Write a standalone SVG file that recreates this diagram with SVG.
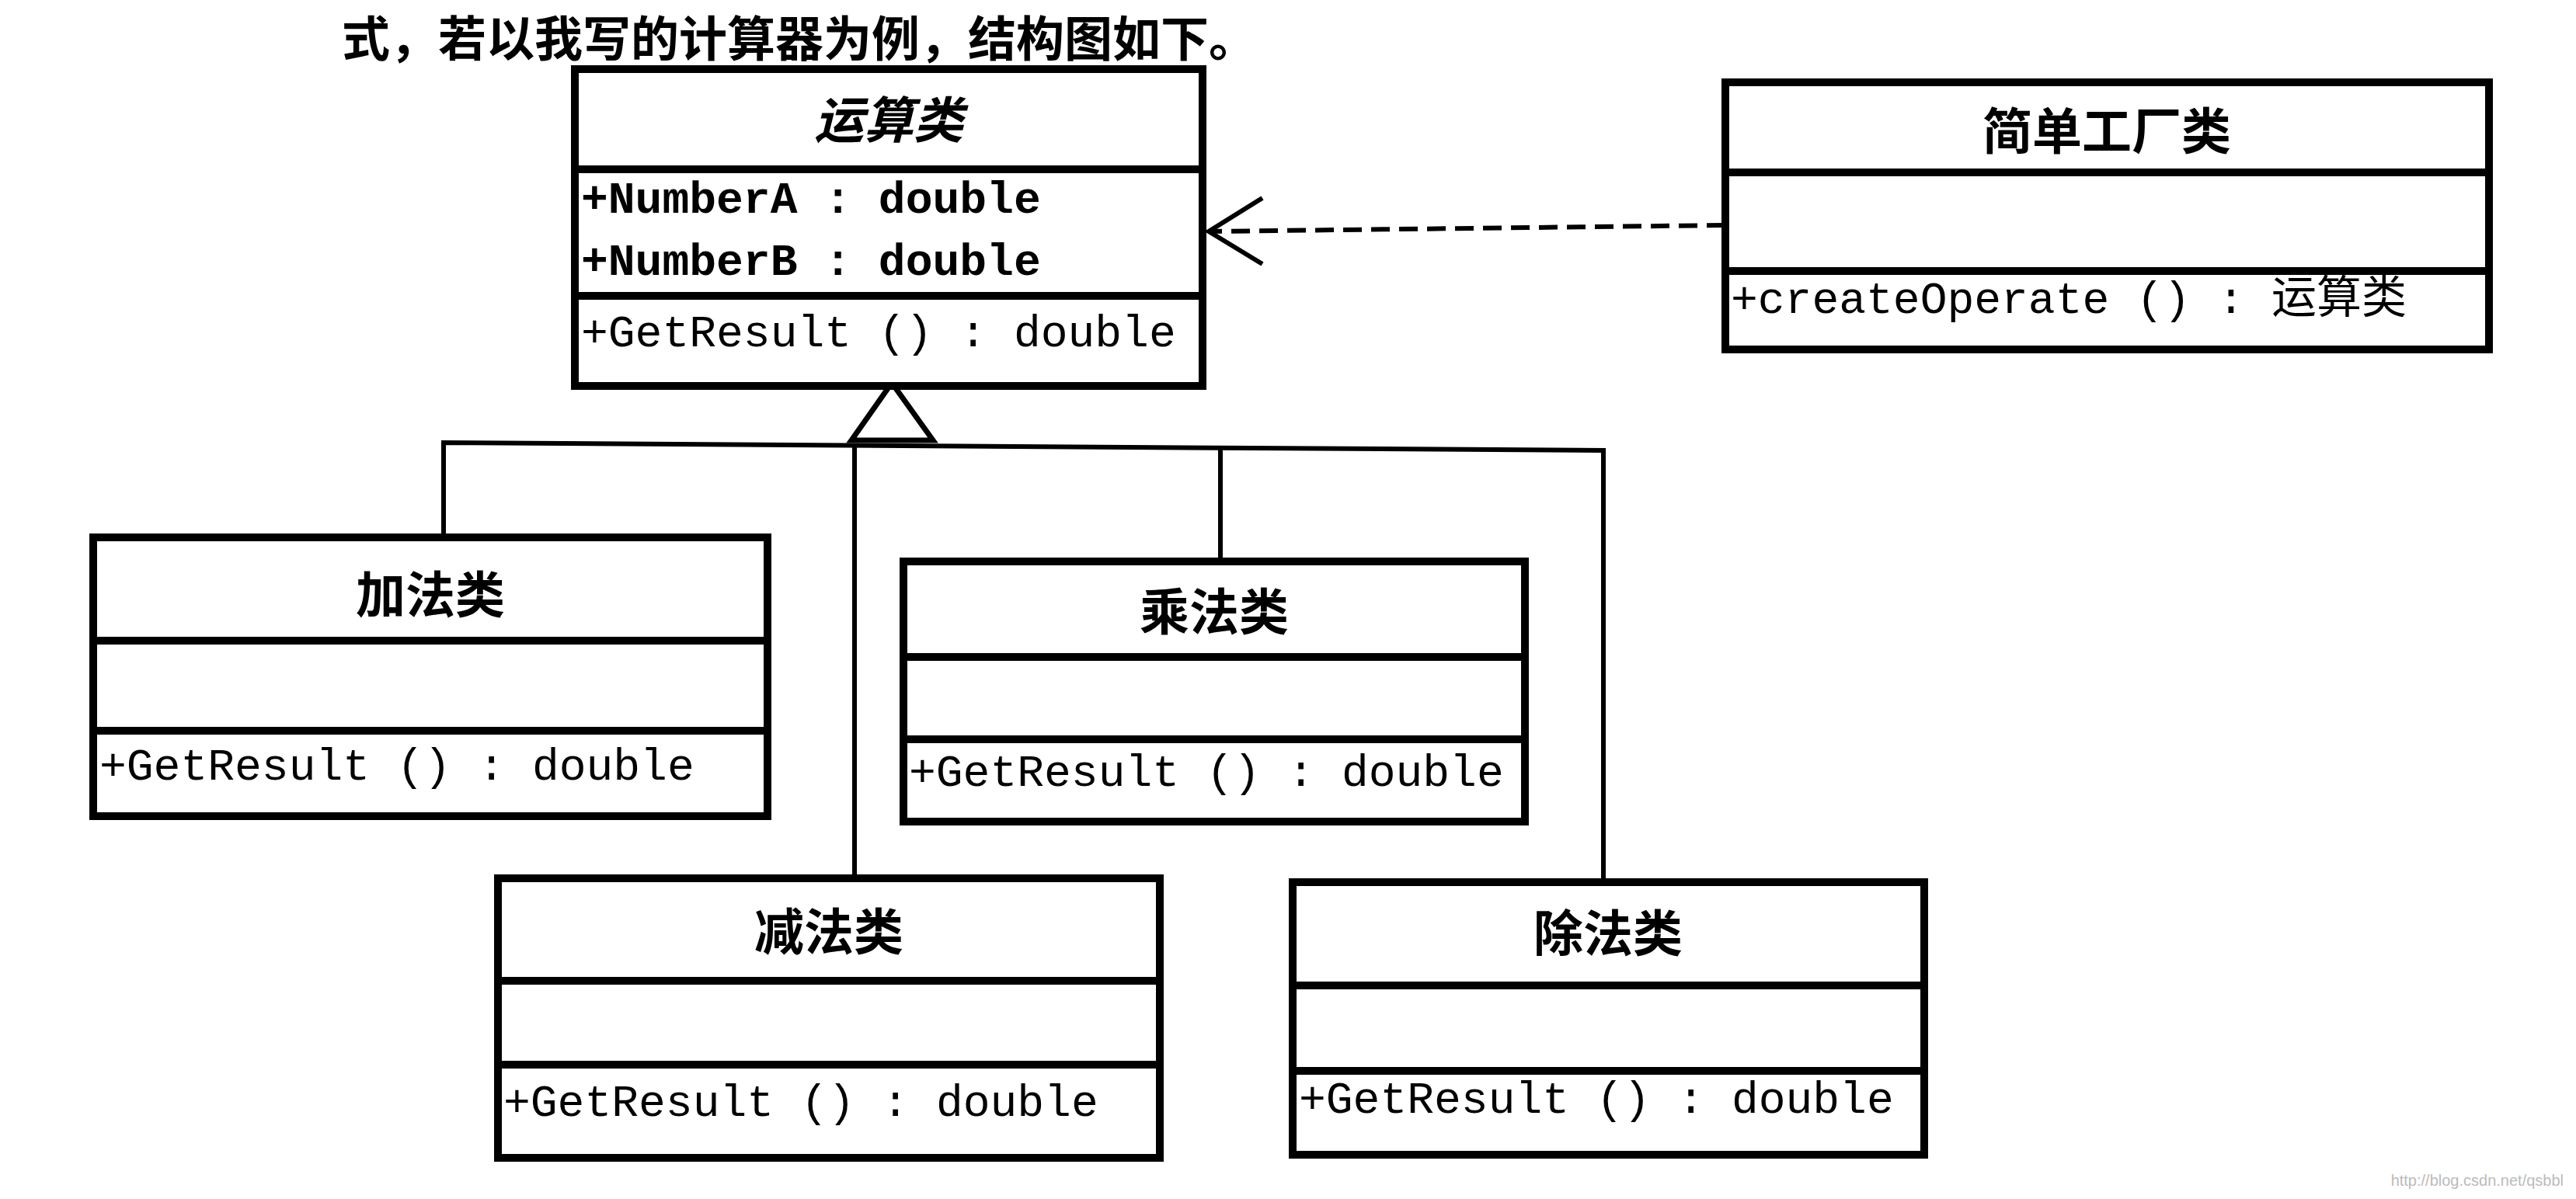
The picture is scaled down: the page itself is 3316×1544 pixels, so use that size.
<svg xmlns="http://www.w3.org/2000/svg" width="3316" height="1544" viewBox="0 0 3316 1544">
<style>
.box{fill:#fff;stroke:#000;stroke-width:10}
.sep{stroke:#000;stroke-width:10}
.t{font-family:"Noto Sans CJK SC","Noto Sans CJK JP",sans-serif;font-weight:bold;font-size:64px;text-anchor:middle;dominant-baseline:central}
.m{font-family:"Liberation Mono","Noto Sans CJK SC",monospace;font-size:58px;dominant-baseline:central}
.c{fill:none;stroke:#000;stroke-width:6}
</style>
<rect width="3316" height="1544" fill="#fff"/>
<text x="440" y="46" font-family="Noto Sans CJK SC,sans-serif" font-weight="bold" font-size="62" dominant-baseline="central">式，若以我写的计算器为例，结构图如下。</text>
<g id="connectors">
<line class="c" x1="2221" y1="290" x2="1560" y2="298" stroke-dasharray="24,12"/>
<polyline class="c" points="1625,255 1556,298 1625,340"/>
<polyline class="c" points="571,694 571,570 2064,580 2064,1136"/>
<line class="c" x1="1100" y1="572" x2="1100" y2="1131"/>
<line class="c" x1="1571" y1="576" x2="1571" y2="725"/>
<polygon points="1148,493 1096,567 1201,567" fill="#fff" stroke="#000" stroke-width="7"/>
</g>
<g id="operation">
<rect class="box" x="740" y="89" width="808" height="408"/>
<line class="sep" x1="740" y1="218" x2="1548" y2="218"/>
<line class="sep" x1="740" y1="381" x2="1548" y2="381"/>
<text class="t" x="1144" y="150" font-style="italic">运算类</text>
<text class="m" x="748" y="258" font-weight="bold">+NumberA  : double</text>
<text class="m" x="748" y="338" font-weight="bold">+NumberB  : double</text>
<text class="m" x="748" y="430">+GetResult () : double</text>
</g>
<g id="factory">
<rect class="box" x="2221" y="106" width="983" height="344"/>
<line class="sep" x1="2221" y1="222" x2="3204" y2="222"/>
<line class="sep" x1="2221" y1="349" x2="3204" y2="349"/>
<text class="t" x="2712" y="164">简单工厂类</text>
<text class="m" x="2228" y="387">+createOperate () : 运算类</text>
</g>
<g id="add">
<rect class="box" x="120" y="692" width="868" height="359"/>
<line class="sep" x1="120" y1="825" x2="988" y2="825"/>
<line class="sep" x1="120" y1="941" x2="988" y2="941"/>
<text class="t" x="554" y="761">加法类</text>
<text class="m" x="128" y="988">+GetResult () : double</text>
</g>
<g id="mul">
<rect class="box" x="1163" y="723" width="800" height="335"/>
<line class="sep" x1="1163" y1="846" x2="1963" y2="846"/>
<line class="sep" x1="1163" y1="952" x2="1963" y2="952"/>
<text class="t" x="1563" y="783">乘法类</text>
<text class="m" x="1170" y="996">+GetResult () : double</text>
</g>
<g id="sub">
<rect class="box" x="641" y="1131" width="852" height="360"/>
<line class="sep" x1="641" y1="1263" x2="1493" y2="1263"/>
<line class="sep" x1="641" y1="1371" x2="1493" y2="1371"/>
<text class="t" x="1067" y="1195">减法类</text>
<text class="m" x="648" y="1421">+GetResult () : double</text>
</g>
<g id="div">
<rect class="box" x="1664" y="1136" width="813" height="351"/>
<line class="sep" x1="1664" y1="1269" x2="2477" y2="1269"/>
<line class="sep" x1="1664" y1="1379" x2="2477" y2="1379"/>
<text class="t" x="2070" y="1197">除法类</text>
<text class="m" x="1672" y="1417">+GetResult () : double</text>
</g>
<text x="3300" y="1527" text-anchor="end" font-family="Liberation Sans,sans-serif" font-size="20" fill="#bbb">http://blog.csdn.net/qsbbl</text>
</svg>
